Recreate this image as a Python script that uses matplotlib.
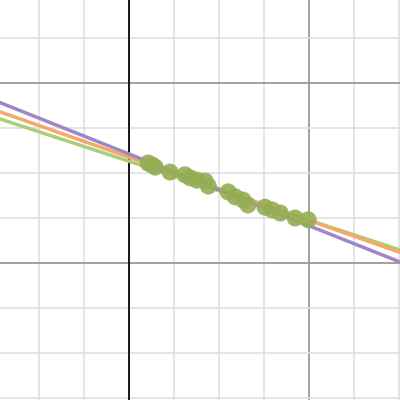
import matplotlib
matplotlib.use("Agg")
import matplotlib.pyplot as plt
import numpy as np

px = [0.42,0.51,0.58,0.91,1.24,1.36,1.51,1.69,1.76,2.2,2.36,2.53,2.64,3.02,3.18,3.36,3.69,3.98]
py = [6.22,6.18,6.13,6.02,5.96,5.89,5.84,5.82,5.71,5.58,5.47,5.4,5.29,5.24,5.18,5.11,5.0,4.96]
line_slopes = [-0.398, -0.351, -0.327]
line_intercepts = [6.42, 6.35, 6.26]
line_colors = ["#9e86c8", "#f5a867", "#a9cf7a"]

fig = plt.figure(figsize=(4, 4), dpi=100)
ax = fig.add_axes([0, 0, 1, 1])
xmin, xmax, ymin, ymax = -2.87, 6.02, 0.96, 9.84
for v in range(-2, 7):
    ax.axvline(v, color="#999999" if v % 4 == 0 else "#e0e0e0", lw=1.3 if v % 4 == 0 else 1.2, zorder=0)
for v in range(1, 10):
    ax.axhline(v, color="#999999" if v % 4 == 0 else "#e0e0e0", lw=1.3 if v % 4 == 0 else 1.2, zorder=0)
ax.axvline(0, color="black", lw=1.2, zorder=1)

xs = np.array([xmin, xmax])
order = [2, 1, 0]
for i in order:
    ax.plot(xs, line_slopes[i] * xs + line_intercepts[i], color=line_colors[i], lw=2.5, zorder=2)
ax.scatter(px, py, s=150, color="#95ad55", alpha=0.9, zorder=3, edgecolors="none")

ax.set_xlim(xmin, xmax)
ax.set_ylim(ymin, ymax)
ax.axis("off")
fig.savefig("out.png", dpi=100)
